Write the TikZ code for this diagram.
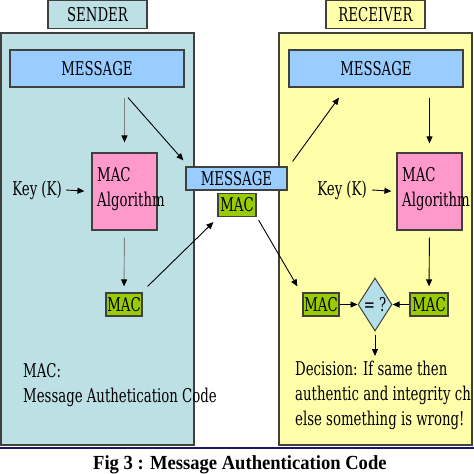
\documentclass[tikz,border=0pt]{standalone}
\usepackage{fontspec}
\newfontfamily\df{DejaVu Serif}[FakeStretch=0.70]
\newfontfamily\capf{Liberation Serif}[FakeStretch=0.93]
\usetikzlibrary{arrows.meta,shapes.geometric}
\definecolor{panelL}{RGB}{189,224,228}
\definecolor{panelR}{RGB}{255,255,170}
\definecolor{msgc}{RGB}{153,204,255}
\definecolor{algc}{RGB}{255,153,204}
\definecolor{macc}{RGB}{153,204,0}
\definecolor{diac}{RGB}{180,222,232}
\definecolor{bord}{RGB}{64,64,64}
\definecolor{navyc}{RGB}{25,25,100}
\begin{document}
\begin{tikzpicture}[x=1pt,y=-1pt,
  txt/.style={font=\df\fontsize{19}{25}\selectfont, text=black, inner sep=0pt},
  box/.style={draw=bord, line width=1.2pt, inner sep=0pt, txt},
  panel/.style={draw=bord, line width=1.5pt},
  arr/.style={-{Triangle[length=7pt,width=6pt,color=black]}, line width=0.9pt, draw=black},
  garr/.style={arr, draw=gray},
  msgbox/.style={box, fill=msgc},
  algbox/.style={box, fill=algc, minimum width=65pt, minimum height=77pt},
  macbox/.style={box, fill=macc, minimum width=36pt, minimum height=23pt}]
\useasboundingbox (0,0) rectangle (474,474);
\clip (0,0) rectangle (474,474);
% panels
\node[panel, fill=panelL, minimum width=193pt, minimum height=412pt, inner sep=0pt] (lpan) at (97.5,239) {};
\node[panel, fill=panelR, minimum width=193pt, minimum height=412pt, inner sep=0pt] (rpan) at (375.5,239) {};
\node[box, fill=panelL, minimum width=99pt, minimum height=28pt] (sender) at (97.5,14.5) {SENDER};
\node[box, fill=panelR, minimum width=99pt, minimum height=28pt] (receiver) at (375.5,14.5) {RECEIVER};
% sender
\node[msgbox, minimum width=174pt, minimum height=37pt] (lmsg) at (97,68.5) {MESSAGE};
\node[algbox] (salg) at (124.5,191.5) {};
\node[txt, align=left, anchor=west] (salgt) at (97,189.5) {MAC\\Algorithm};
\node[txt, anchor=east] (skey) at (62,190) {Key (K)};
\node[macbox] (smac) at (124,304.5) {MAC};
\node[txt, align=left, anchor=west] (legend) at (23,385.5) {MAC:\\Message Authetication Code};
% middle
\node[msgbox, minimum width=101pt, minimum height=23pt] (cmsg) at (236.5,178.5) {MESSAGE};
\node[macbox, minimum width=38pt] (cmac) at (237,205) {MAC};
% receiver
\node[msgbox, minimum width=174pt, minimum height=37pt] (rmsg) at (376,68.5) {MESSAGE};
\node[algbox] (ralg) at (429.5,191.5) {};
\node[txt, align=left, anchor=west] (ralgt) at (402,189.5) {MAC\\Algorithm};
\node[txt, anchor=east] (rkey) at (367,190) {Key (K)};
\node[macbox] (rlmac) at (321,304.5) {MAC};
\node[macbox, minimum width=38pt] (rrmac) at (429,304.5) {MAC};
\node[diamond, draw=bord, fill=diac, line width=1pt, minimum width=34pt, minimum height=53pt, inner sep=0pt,
      label={[txt]center:= ?}] (dia) at (375,304.5) {};
\coordinate (dec) at (375,356);
\node[txt, align=left, anchor=north west] (dtext) at (295,361) {Decision: If same then\\authentic and integrity ch\\else something is wrong!};
% connectors
\draw[garr, shorten <=10pt, shorten >=10pt] (salg.north |- lmsg.south) -- (salg.north);
\draw[garr, shorten <=7pt, shorten >=6pt] (salg.south) -- (smac.north);
\draw[arr, shorten >=7pt] (skey.east) ++(4,0) -- (salg.west);
\draw[arr] ([xshift=31pt,yshift=-10pt]lmsg.south) -- ([xshift=-2pt,yshift=6pt]cmsg.north west);
\draw[arr] ([xshift=5pt,yshift=6pt]smac.north east) -- ([xshift=-4pt,yshift=-5pt]cmac.south west);
\draw[arr] ([xshift=5pt,yshift=5pt]cmsg.north east) -- ([xshift=-37pt,yshift=-10pt]rmsg.south);
\draw[arr] ([xshift=2pt,yshift=-3pt]cmac.south east) -- ([xshift=-5pt,yshift=6pt]rlmac.north west);
\draw[arr, shorten <=10pt, shorten >=9pt] (ralg.north |- rmsg.south) -- (ralg.north);
\draw[arr, shorten <=7pt, shorten >=6pt] (ralg.south) -- (rrmac.north);
\draw[arr, shorten >=5pt] (rkey.east) ++(5,0) -- (ralg.west);
\draw[arr] (rlmac.east) -- (dia.west);
\draw[arr] (rrmac.west) -- (dia.east);
\draw[arr, shorten <=3pt] (dia.south) -- (dec);
% caption
\draw[navyc, line width=2pt] (0,448) -- (474,448);
\node[font=\capf\bfseries\fontsize{20}{24}\selectfont, anchor=base west, inner sep=0pt] (cap) at (93,469) {Fig 3 : Message Authentication Code};
\end{tikzpicture}
\end{document}
